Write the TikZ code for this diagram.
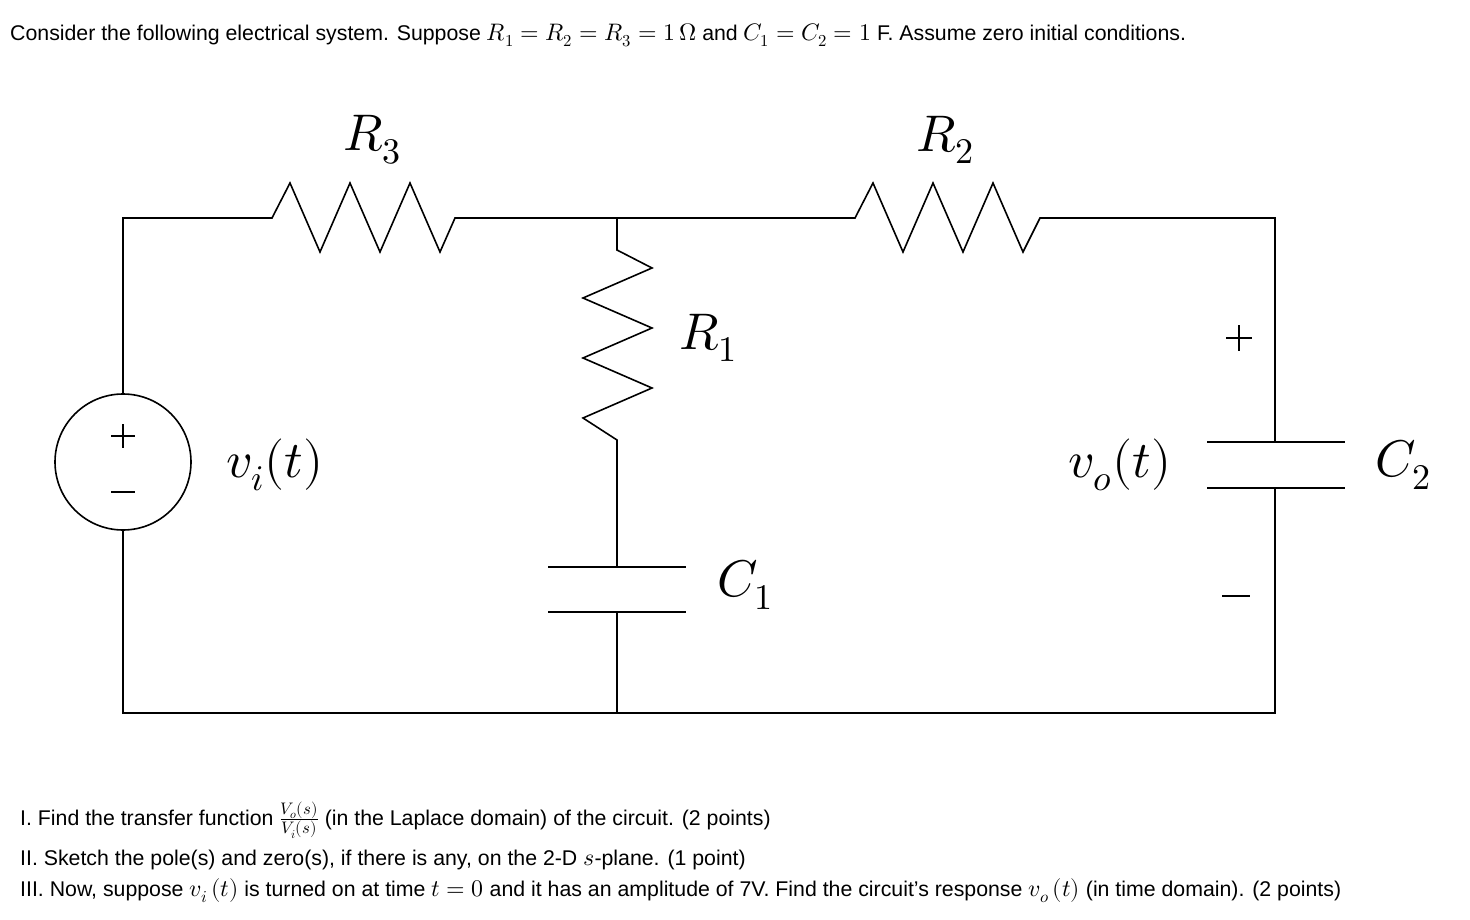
\documentclass[tikz,border=0pt]{standalone}
\usepackage{fontspec}
\setmainfont{Liberation Sans}
\usepackage{unicode-math}
\setmathfont{Latin Modern Math}[Scale=1.12]
\begin{document}
\begin{tikzpicture}[x=1pt,y=-1pt,
  wire/.style={line width=1.6pt,line join=miter},
  big/.style={font=\fontsize{46}{52}\selectfont},
  txt/.style={font=\fontsize{21.3}{25}\selectfont,anchor=west,inner sep=0}]
\useasboundingbox (0,0) rectangle (1470,920);
% text
\node[txt] (t0) at (10,35) {Consider the following electrical system. Suppose $R_1=R_2=R_3=1\,\Omega$ and $C_1=C_2=1$ F. Assume zero initial conditions.};
\node[txt] (t1) at (20,820) {I. Find the transfer function $\frac{V_o(s)}{V_i(s)}$ (in the Laplace domain) of the circuit. (2 points)};
\node[txt] (t2) at (20,860) {II. Sketch the pole(s) and zero(s), if there is any, on the 2-D $s$-plane. (1 point)};
\node[txt] (t3) at (20,891) {III. Now, suppose $v_i\,(t)$ is turned on at time $t=0$ and it has an amplitude of 7V. Find the circuit's response $v_o\,(t)$ (in time domain). (2 points)};
% source
\node[circle,draw,line width=1.6pt,minimum size=136pt,inner sep=0] (src) at (123,462) {};
\draw[line width=1.4pt] (111,436)--(135,436) (123,424)--(123,448) (111,492)--(135,492);
% wires
\draw[wire] (src.north)--(123,218)--(272,218)--(290,183)--(320,252)--(350,183)--(380,252)--(410,183)--(440,252)--(455,218)--(855,218)--(873,183)--(903,252)--(933,183)--(963,252)--(993,183)--(1023,252)--(1040,218)--(1275,218)--(1275,442);
\draw[wire] (617,218)--(617,250)--(652,268)--(583,298)--(652,328)--(583,358)--(652,388)--(583,418)--(617,440)--(617,567);
\draw[wire] (548,567)--(686,567) (548,612)--(686,612);
\draw[wire] (1207,442)--(1345,442) (1207,488)--(1345,488);
\draw[wire] (1275,488)--(1275,713)--(123,713)--(src.south);
\draw[wire] (617,612)--(617,713);
% labels
\node[big] (lr3) at (372,140) {$R_3$};
\node[big] (lr2) at (945,140) {$R_2$};
\node[big] (lr1) at (708,338) {$R_1$};
\node[big] (lc1) at (745,585) {$C_1$};
\node[big] (lc2) at (1403,465) {$C_2$};
\node[big] (lvi) at (275,465) {$v_i(t)$};
\node[big] (lvo) at (1120,465) {$v_o(t)$};
\draw[line width=1.4pt] (1226,338)--(1252,338) (1239,325)--(1239,351) (1222,596)--(1250,596);
\end{tikzpicture}
\end{document}
